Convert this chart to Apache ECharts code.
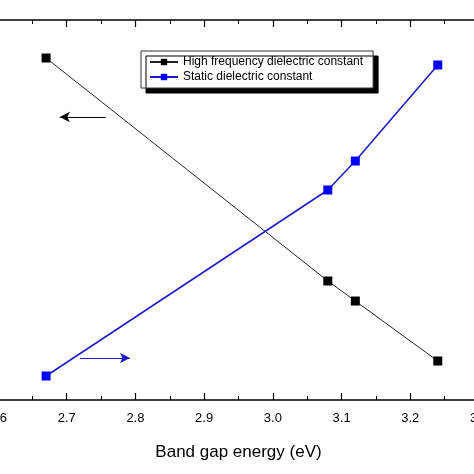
<!DOCTYPE html>
<html><head><meta charset="utf-8">
<script src="https://cdn.jsdelivr.net/npm/echarts@6/dist/echarts.min.js"></script>
<style>html,body{margin:0;padding:0;background:#fff}#c{width:474px;height:474px}</style>
</head><body><div id="c"></div>
<script>
// band gap energy (eV)
const energy = [2.67, 3.08, 3.12, 3.24];
// y values in arbitrary units (axes not visible in the crop)
const highFreq = [342, 119, 99, 39];
const staticConst = [24, 210, 239, 335];
const xTicks = ['2.6', '2.7', '2.8', '2.9', '3.0', '3.1', '3.2', '3.3'];

const chart = echarts.init(document.getElementById('c'));
const font = 'Liberation Sans, Arial, sans-serif';
const xBase = {
  type: 'value', min: 2.6, max: 3.3, interval: 0.1,
  axisLine: { onZero: false, lineStyle: { color: '#000', width: 1.5 } },
  axisTick: { inside: true, length: 7, lineStyle: { color: '#000', width: 1.2 } },
  minorTick: { show: true, splitNumber: 2, length: 4, lineStyle: { color: '#000' } },
  splitLine: { show: false }
};
chart.setOption({
  animation: false,
  grid: { left: -2, right: -5, top: 20, bottom: 74, containLabel: false, outerBoundsMode: 'none' },
  legend: {
    top: 51, left: 141, orient: 'vertical', itemGap: 3,
    itemWidth: 28, itemHeight: 8,
    backgroundColor: '#fff', borderColor: '#333', borderWidth: 1,
    padding: [5, 10, 5, 8],
    shadowColor: '#000', shadowBlur: 0, shadowOffsetX: 5, shadowOffsetY: 5,
    textStyle: { fontFamily: font, fontSize: 12, color: '#000' },
    data: ['High frequency dielectric constant', 'Static dielectric constant']
  },
  xAxis: [
    Object.assign({}, xBase, {
      position: 'bottom',
      name: 'Band gap energy (eV)', nameLocation: 'middle', nameGap: 44,
      nameTextStyle: { fontFamily: font, fontSize: 17, color: '#000' },
      axisLabel: { fontFamily: font, fontSize: 13, color: '#000', margin: 12,
        formatter: v => xTicks[Math.round((v - 2.6) * 10)] }
    }),
    Object.assign({}, xBase, { position: 'top', axisLabel: { show: false } })
  ],
  yAxis: [
    { type: 'value', min: 0, max: 380, show: false },
    { type: 'value', min: 0, max: 380, show: false }
  ],
  series: [
    {
      name: 'High frequency dielectric constant', type: 'line', yAxisIndex: 0,
      data: energy.map((e, i) => [e, highFreq[i]]),
      color: '#000', symbol: 'rect', symbolSize: 9,
      lineStyle: { width: 1, color: '#222' },
      markLine: {
        silent: true, symbol: ['none', 'arrow'], symbolSize: [8, 10],
        label: { show: false }, lineStyle: { color: '#000', type: 'solid', width: 1.2 },
        data: [[{ coord: [2.757, 283] }, { coord: [2.69, 283] }]]
      }
    },
    {
      name: 'Static dielectric constant', type: 'line', yAxisIndex: 1,
      data: energy.map((e, i) => [e, staticConst[i]]),
      color: '#0000ff', symbol: 'rect', symbolSize: 9,
      lineStyle: { width: 1.5, color: '#1a1acc' },
      markLine: {
        silent: true, symbol: ['none', 'arrow'], symbolSize: [8, 10],
        label: { show: false }, lineStyle: { color: '#1a1acc', type: 'solid', width: 1.2 },
        data: [[{ coord: [2.719, 42] }, { coord: [2.792, 42] }]]
      }
    }
  ]
});
</script></body></html>
